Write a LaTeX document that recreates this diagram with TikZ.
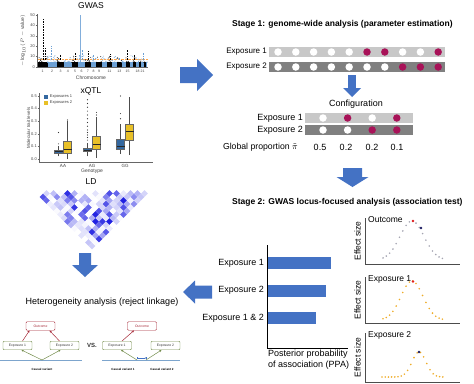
\documentclass[tikz,border=0pt]{standalone}
\usepackage{fontspec}
\setmainfont{Liberation Sans}
\usetikzlibrary{arrows.meta}
\usetikzlibrary{positioning}
\definecolor{c1}{RGB}{68,114,196}
\definecolor{gwasblue}{RGB}{108,160,212}
\definecolor{qtlblue}{RGB}{52,104,160}
\definecolor{qtlyellow}{RGB}{232,192,40}
\definecolor{snpmag}{RGB}{168,18,88}
\definecolor{rowlight}{RGB}{200,200,200}
\definecolor{rowdark}{RGB}{128,128,128}
\definecolor{ldblue}{RGB}{30,30,225}
\definecolor{outred}{RGB}{165,40,55}
\definecolor{expgreen}{RGB}{115,140,75}
\definecolor{varline}{RGB}{125,165,205}
\definecolor{dotgray}{RGB}{165,165,178}
\definecolor{dotorange}{RGB}{238,172,40}
\definecolor{dotnavy}{RGB}{25,25,95}
\definecolor{dotred}{RGB}{225,30,30}
\tikzset{
  ttl/.style={font=\fontsize{8.5}{10}\selectfont, inner sep=0pt},
  stage/.style={font=\bfseries\fontsize{8.5}{10}\selectfont, anchor=west, inner sep=0pt},
  txt/.style={font=\fontsize{9}{11}\selectfont, inner sep=0pt},
  rowlab/.style={font=\fontsize{8}{10}\selectfont, anchor=east, inner sep=0pt},
  ticklab/.style={font=\fontsize{4}{5}\selectfont, inner sep=0pt, text=black!75},
  rowbar/.style={draw=none, minimum height=10pt, inner sep=0pt},
  snp0/.style={circle, fill=white, minimum size=7.5pt, inner sep=0pt},
  snp1/.style={snp0, fill=snpmag},
  hbox/.style={draw, rounded corners=1pt, minimum width=29pt, minimum height=8.5pt, inner sep=0pt, line width=0.45pt, font=\fontsize{3.4}{4}\selectfont},
  outbox/.style={hbox, draw=outred, text=outred},
  expbox/.style={hbox, draw=expgreen, text=black!80},
  redarr/.style={-{Stealth[length=2.4pt,width=2.2pt]}, outred, line width=0.5pt},
  grnarr/.style={-{Stealth[length=2.4pt,width=2.2pt]}, expgreen, line width=0.5pt},
  axline/.style={black!60, line width=0.4pt},
  effaxis/.style={black!70, line width=0.6pt},
  cvlab/.style={font=\bfseries\fontsize{3}{4}\selectfont, inner sep=0pt},
}
% x y angle length shaft-half head-half head-length
\newcommand{\blockarrow}[7]{\fill[c1, shift={(#1,#2)}, rotate=#3] (0,-#5) -- ({#4-#7},-#5) -- ({#4-#7},-#6) -- (#4,0) -- ({#4-#7},#6) -- ({#4-#7},#5) -- (0,#5) -- cycle;}
% x wlo q1 med q3 whi colour
\newcommand{\qtlbox}[7]{%
  \draw[black!70, line width=0.3pt] (#1,{159-126*#2}) -- (#1,{159-126*#3}) (#1,{159-126*#5}) -- (#1,{159-126*#6});
  \filldraw[fill=#7, draw=black!60, line width=0.3pt] ({#1-4},{159-126*#3}) rectangle ({#1+4},{159-126*#5});
  \draw[black!85, line width=0.5pt] ({#1-4},{159-126*#4}) -- ({#1+4},{159-126*#4});}

\begin{document}
\begin{tikzpicture}[x=1pt, y=-1pt]
	\useasboundingbox (0,0) rectangle (474,383);
	\pgfmathsetseed{7}

	% GWAS
	\node[ttl] (gwas) at (91,6) {GWAS};
	\draw[axline] (37,14) -- (37,67) -- (148,67);
	\foreach \yv in {0,10,...,50}{
		\draw[axline] (35.5,{67-1.04*\yv}) -- (37,{67-1.04*\yv});
		\node[ticklab, anchor=east] (gy\yv) at (35,{67-1.04*\yv}) {\yv};
	}
	\node[ticklab, rotate=90, font=\fontsize{5}{6}\selectfont] (gylab) at (23,41) {$-\log_{10}(P-\mathrm{value})$};
	\foreach \s/\e [count=\cc] in {38.0/47.5, 47.5/56.7, 56.7/64.2, 64.2/71.5, 71.5/78.4, 78.4/84.9, 84.9/90.9, 90.9/96.4, 96.4/101.8, 101.8/107.0, 107.0/112.1, 112.1/117.2, 117.2/121.5, 121.5/125.6, 125.6/129.5, 129.5/132.9, 132.9/136.0, 136.0/139.0, 139.0/141.3, 141.3/143.6, 143.6/145.5, 145.5/147.4}{
		\pgfmathtruncatemacro\odd{mod(\cc,2)}
		\ifnum\odd=1 \def\mcol{black}\else\def\mcol{gwasblue}\fi
		\fill[color=\mcol] (\s,67) rectangle (\e,62);
		\pgfmathtruncatemacro\np{2.5*(\e-\s)}
		\foreach \kk in {1,...,\np}{
			\pgfmathsetmacro\px{\s+rnd*(\e-\s)}
			\pgfmathsetmacro\py{62.5-7*rnd^3}
			\fill[color=\mcol] (\px,\py) circle (0.45);
		}
	}
	\draw[orange!70, densely dotted, line width=0.4pt] (38,59.4) -- (148,59.4);
	\fill[gwasblue!85] (79.8,{67-1.04*50}) rectangle (81.2,62);
	\foreach \px/\pt/\pc in {43.5/46/black, 45/18/black, 51.5/20/gwasblue, 60/12/black, 75/14/black, 82.5/17/gwasblue, 88/15/black, 93/12/gwasblue, 110/13/black, 119/10/gwasblue, 127/17/black, 134/12/black, 143/14/gwasblue}{
		\draw[color=\pc, line width=0.6pt, dash pattern=on 0.6pt off 1pt] (\px,{67-1.04*7}) -- (\px,{67-1.04*\pt});
	}
	\foreach \cc/\xc in {1/42.7, 2/52.1, 3/60.5, 4/67.9, 5/75.0, 6/81.6, 7/87.9, 8/93.7, 9/99.1, 11/109.5, 13/119.4, 15/127.5, 18/137.5, 21/142.5}{
		\node[ticklab, font=\fontsize{3.5}{4}\selectfont] (gx\cc) at (\xc,71.5) {\cc};
	}
	\node[ticklab, font=\fontsize{5}{6}\selectfont] (chrom) at (91,78) {Chromosome};

	% xQTL
	\node[ttl] (xqtl) at (91,91) {xQTL};
	\draw[axline] (39,93) -- (39,162) -- (153,162);
	\foreach \lab [count=\kk] in {0.0,0.1,0.2,0.3,0.4,0.5}{
		\draw[axline] (37.5,{159-126*\lab}) -- (39,{159-126*\lab});
		\node[ticklab, anchor=east] (qy\kk) at (37,{159-126*\lab}) {\lab};
	}
	\node[ticklab, rotate=90, font=\fontsize{4.5}{5}\selectfont] (qylab) at (28.5,128) {Molecular trait levels};
	\foreach \gt/\xc in {AA/63, AG/92, GG/125}{
		\node[ticklab, font=\fontsize{4.5}{5}\selectfont] (g\gt) at (\xc,166) {\gt};
	}
	\node[ticklab, font=\fontsize{5}{6}\selectfont] (geno) at (92,171) {Genotype};
	\node[fill=qtlblue, minimum size=4pt, inner sep=0pt] (legb) at (46,97) {};
	\node[ticklab, anchor=west, right=1.5pt of legb] (legbt) {Exposures 1};
	\node[fill=qtlyellow, minimum size=4pt, inner sep=0pt] (legy) at (46,103) {};
	\node[ticklab, anchor=west, right=1.5pt of legy] (legyt) {Exposures 2};
	\qtlbox{58.5}{0.02}{0.05}{0.06}{0.07}{0.10}{qtlblue}
	\qtlbox{67.5}{0.0}{0.045}{0.08}{0.14}{0.30}{qtlyellow}
	\qtlbox{87.5}{0.02}{0.06}{0.07}{0.09}{0.13}{qtlblue}
	\qtlbox{96.5}{0.01}{0.08}{0.12}{0.18}{0.33}{qtlyellow}
	\qtlbox{120.5}{0.04}{0.08}{0.10}{0.16}{0.28}{qtlblue}
	\qtlbox{129.5}{0.03}{0.15}{0.22}{0.28}{0.49}{qtlyellow}
	\foreach \xo/\vo in {58.5/0.12, 58.5/0.21, 67.5/0.31, 87.5/0.15, 87.5/0.17, 87.5/0.19, 87.5/0.21, 87.5/0.23, 87.5/0.26, 87.5/0.29, 87.5/0.32, 87.5/0.35, 87.5/0.38, 87.5/0.41, 87.5/0.44, 87.5/0.47, 96.5/0.35, 96.5/0.37, 120.5/0.32, 120.5/0.36, 120.5/0.50}{
		\fill[black!80] (\xo,{159-126*\vo}) circle (0.6);
	}

	% LD
	\node[ttl] (ld) at (91,182) {LD};
	\foreach \i in {0,...,15}{
		\foreach \j in {\i,...,15}{
			\pgfmathsetmacro\ldx{39.5+7*(\i+\j)/2}
			\pgfmathsetmacro\ldy{193.5+7*(\j-\i)/2}
			\pgfmathtruncatemacro\ldv{100*rnd^2}
			\fill[ldblue!\ldv!white] (\ldx,{\ldy-3.3}) -- ({\ldx+3.3},\ldy) -- (\ldx,{\ldy+3.3}) -- ({\ldx-3.3},\ldy) -- cycle;
		}
	}

	% block arrows
	\blockarrow{180}{75}{0}{33}{8}{16}{16}
	\blockarrow{85}{253}{-90}{24}{6}{13}{12}
	\blockarrow{212}{292}{180}{29}{6.5}{11.5}{12}
	\blockarrow{352}{75}{-90}{22}{3.8}{9}{9}
	\blockarrow{352.5}{168}{-90}{19}{9.5}{16}{10}

	% heterogeneity
	\node[txt] (het) at (102,302) {Heterogeneity analysis (reject linkage)};
	\node[outbox] (outL) at (40.5,326) {Outcome};
	\node[expbox] (e1L) at (17.5,345.5) {Exposure 1};
	\node[expbox] (e2L) at (64.5,345.5) {Exposure 2};
	\coordinate (lnLa) at (0,360);
	\coordinate (lnLb) at (82,360);
	\coordinate (cvL) at (42,360);
	\draw[varline, line width=0.6pt] (lnLa) -- (lnLb);
	\draw[grnarr] (cvL) -- ([xshift=4pt]e1L.south);
	\draw[grnarr] (cvL) -- ([xshift=-4pt]e2L.south);
	\draw[redarr] ([xshift=5pt]e1L.north) -- ([xshift=-11pt]outL.south);
	\draw[redarr] ([xshift=-5pt]e2L.north) -- ([xshift=9pt]outL.south);
	\node[cvlab] (cvLt) at (42,369.5) {Causal variant};
	\node[font=\bfseries\fontsize{6}{7}\selectfont, inner sep=0pt, text=black!80] (vs) at (92,345) {VS.};
	\node[outbox] (outR) at (142,326) {Outcome};
	\node[expbox] (e1R) at (117,345.5) {Exposure 1};
	\node[expbox] (e2R) at (165.5,345.5) {Exposure 2};
	\coordinate (lnRa) at (102,360);
	\coordinate (lnRb) at (180,360);
	\coordinate (cv1) at (137,360);
	\coordinate (cv2) at (146,360);
	\draw[varline, line width=0.6pt] (lnRa) -- (lnRb);
	\draw[grnarr] (cv1) -- ([xshift=4pt]e1R.south);
	\draw[grnarr] (cv2) -- ([xshift=-4pt]e2R.south);
	\draw[redarr] ([xshift=5pt]e1R.north) -- ([xshift=-8pt]outR.south);
	\draw[c1, line width=0.4pt] ([yshift=1pt]cv1) -- ([yshift=3pt]cv1) ([yshift=1pt]cv2) -- ([yshift=3pt]cv2);
	\draw[c1, line width=0.35pt, {Stealth[length=1.2pt,width=1.4pt]}-{Stealth[length=1.2pt,width=1.4pt]}] ([yshift=2pt]cv1) -- ([yshift=2pt]cv2);
	\node[cvlab] (cv1t) at (123,369.5) {Causal variant 1};
	\node[cvlab] (cv2t) at (162,369.5) {Causal variant 2};

	% stage 1
	\node[stage] (st1) at (232,24) {Stage 1: genome-wide analysis (parameter estimation)};
	\node[rowbar, fill=rowlight, minimum width=176pt] (bar1) at (357,52) {};
	\node[rowbar, fill=rowdark, minimum width=176pt] (bar2) at (357,67) {};
	\node[rowlab] (r1) at (267,52) {Exposure 1};
	\node[rowlab] (r2) at (267,67) {Exposure 2};
	\foreach \m [count=\kk from 0] in {0,0,0,0,0,1,1,0,0,1}
		\node[snp\m] (a\kk) at ({278+17.8*\kk},52) {};
	\foreach \m [count=\kk from 0] in {0,0,0,0,0,0,0,1,1,1}
		\node[snp\m] (b\kk) at ({278+17.8*\kk},67) {};
	\node[txt] (config) at (356,104) {Configuration};
	\node[rowbar, fill=rowlight, minimum width=108pt] (cbar1) at (359,118) {};
	\node[rowbar, fill=rowdark, minimum width=108pt] (cbar2) at (359,130) {};
	\node[txt, anchor=east] (cr1) at (303,118) {Exposure 1};
	\node[txt, anchor=east] (cr2) at (303,130) {Exposure 2};
	\foreach \m [count=\kk from 0] in {0,1,0,1}
		\node[snp\m] (ca\kk) at ({323+24.6*\kk},118) {};
	\foreach \m [count=\kk from 0] in {0,0,1,1}
		\node[snp\m] (cb\kk) at ({323+24.6*\kk},130) {};
	\node[txt, anchor=east, font=\fontsize{8.7}{10}\selectfont] (glob) at (298,147) {Global proportion $\tilde{\pi}$};
	\foreach \pv/\xc [count=\kk] in {0.5/320, 0.2/346, 0.2/372, 0.1/397}
		\node[txt] (pi\kk) at (\xc,147) {\pv};

	% stage 2
	\node[stage] (st2) at (232,202) {Stage 2: GWAS locus-focused analysis (association test)};
	\coordinate (ppatop) at (267,245);
	\coordinate (ppaorig) at (267,348);
	\coordinate (ppaend) at (348,348);
	\draw[black, line width=0.8pt] (ppatop) -- (ppaorig) -- (ppaend);
	\foreach \lab/\yc/\len [count=\kk] in {Exposure 1/263/63, Exposure 2/290.5/58, Exposure 1 \& 2/318/48}{
		\fill[c1] (267.5,{\yc-6}) rectangle ({267.5+\len},{\yc+6});
		\node[txt, anchor=east] (bl\kk) at (264,\yc) {\lab};
	}
	\node[txt, anchor=north west, align=left] (ppa) at (268,349.5) {Posterior probability\\of association (PPA)};

	% effect size panels
	\foreach \yt/\yb/\nm [count=\kk] in {218/264/Outcome, 277/323/Exposure 1, 333/382/Exposure 2}{
		\draw[effaxis] (365,\yt) -- (365,\yb) -- (460,\yb);
		\node[txt, rotate=90, font=\fontsize{8.5}{10}\selectfont] (es\kk) at (357.5,{(\yt+\yb)/2}) {Effect size};
		\node[txt, anchor=west, font=\fontsize{8.5}{10}\selectfont] (pt\kk) at (368,{\yt+2}) {\nm};
	}
	\foreach \xx in {383,386.3,...,444}{
		\fill[dotgray] (\xx,{260-39*exp(-(\xx-412)*(\xx-412)/288)}) circle (0.9);
		\fill[dotorange] (\xx,{320-39*exp(-(\xx-412)*(\xx-412)/242)}) circle (0.9);
	}
	\foreach \xx in {382,385.2,...,443}{
		\fill[dotorange] (\xx,{377-25*exp(-(\xx-419)*(\xx-419)/98)}) circle (0.9);
	}
	\fill[dotred] (413,221) circle (1.4);
	\fill[dotnavy] (421,228) circle (1.4);
	\fill[dotred] (413,281.5) circle (1.4);
	\fill[dotnavy] (419,352) circle (1.4);
\end{tikzpicture}
\end{document}
